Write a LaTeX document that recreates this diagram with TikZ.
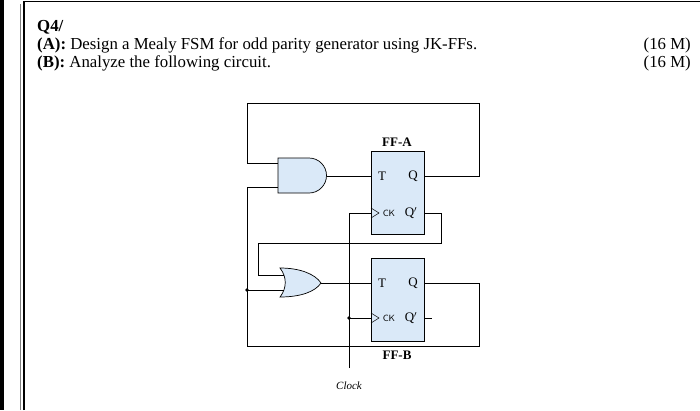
\documentclass[tikz,border=0pt]{standalone}
\usepackage{fontspec}
\setmainfont{Liberation Serif}
\definecolor{gatefill}{RGB}{218,233,248}
\begin{document}
\begin{tikzpicture}[x=1pt, y=-1pt,
        wire/.style={line width=0.8pt},
        ffbox/.style={draw, fill=gatefill, line width=0.7pt},
        gate/.style={draw, fill=gatefill, line width=0.7pt},
        pin/.style={font=\fontsize{13}{13}\selectfont, inner sep=0pt},
        ck/.style={font=\sffamily\fontsize{9}{9}\selectfont, inner sep=0pt},
        dot/.style={circle, fill, inner sep=1.3pt},
        txt/.style={font=\fontsize{16.8}{19}\selectfont, inner sep=0pt, anchor=base west},
    ]
    \useasboundingbox (0,0) rectangle (700,410);
    % page frame
    \fill (0,0) rectangle (4,410);
    \draw[line width=1.6pt] (24,410) -- (24,1.5) -- (700,1.5);
    \draw[line width=0.6pt, gray] (20,410) -- (20,4);

    % header text
    \node[txt] (q) at (37,31) {\textbf{Q4/}};
    \node[txt] (qa) at (37,49) {\textbf{(A):} Design a Mealy FSM for odd parity generator using JK-FFs.};
    \node[txt] (qb) at (37,67) {\textbf{(B):} Analyze the following circuit.};
    \node[txt, anchor=base east] (ma) at (691,49) {(16 M)};
    \node[txt, anchor=base east] (mb) at (691,67) {(16 M)};

    % flip-flops
    \draw[ffbox] (371,151) rectangle (424,234);
    \draw[ffbox] (371,258) rectangle (424,341);
    \node[font=\fontsize{13}{13}\selectfont\bfseries] (ffa) at (397,142) {FF-A};
    \node[font=\fontsize{13}{13}\selectfont\bfseries] (ffb) at (397,355) {FF-B};
    \node[pin] (ta) at (382,176) {T};
    \node[pin] (qa1) at (413,176) {Q};
    \node[pin] (qna) at (411,213) {Q$'$};
    \node[ck] (cka) at (389,213) {CK};
    \node[pin] (tb) at (382,283) {T};
    \node[pin] (qb1) at (413,283) {Q};
    \node[pin] (qnb) at (411,318) {Q$'$};
    \node[ck] (ckb) at (389,318) {CK};
    \draw[line width=0.5pt] (371,208) -- (379,213) -- (371,218);
    \draw[line width=0.5pt] (371,313) -- (379,318) -- (371,323);

    % gates
    \draw[gate] (278,158) -- (309,158) arc[start angle=90, end angle=-90, radius=17.5pt] -- (278,193) -- cycle;
    \draw[gate] (280,268) .. controls (300,268) and (315,274) .. (321,283)
        .. controls (315,292) and (300,297) .. (280,297)
        .. controls (287,288) and (287,277) .. (280,268) -- cycle;

    % named pins
    \coordinate (andA) at (278,163);
    \coordinate (andB) at (278,187);
    \coordinate (andY) at (327,176);
    \coordinate (orA) at (284,275);
    \coordinate (orB) at (284,290);
    \coordinate (orY) at (321,283);
    \coordinate (tA) at (371,176);
    \coordinate (tB) at (371,283);
    \coordinate (qA) at (424,176);
    \coordinate (qB) at (424,283);
    \coordinate (qnA) at (424,213);
    \coordinate (qnB) at (424,318);
    \coordinate (ckA) at (371,213);
    \coordinate (ckB) at (371,318);
    \coordinate (clk) at (349,368);
    \coordinate (fb) at (247,290);

    % wiring
    \draw[wire] (qA) -- (479,176) -- (479,103) -- (247,103) -- (247,163) -- (andA);
    \draw[wire] (andY) -- (tA);
    \draw[wire] (orY) -- (tB);
    \draw[wire] (qnA) -- (441,213) -- (441,243) -- (258,243) -- (258,275) -- (orA);
    \draw[wire] (qB) -- (479,283) -- (479,346) -- (247,346) -- (247,187) -- (andB);
    \draw[wire] (fb) -- (orB);
    \draw[wire] (qnB) -- (432,318);
    \draw[wire] (clk) -- (349,213) -- (ckA);
    \draw[wire] (349,318) -- (ckB);
    \node[dot] (d1) at (fb) {};
    \node[dot] (d2) at (349,318) {};
    \node[font=\itshape\fontsize{11}{11}\selectfont] (clock) at (349,386) {Clock};
\end{tikzpicture}
\end{document}
